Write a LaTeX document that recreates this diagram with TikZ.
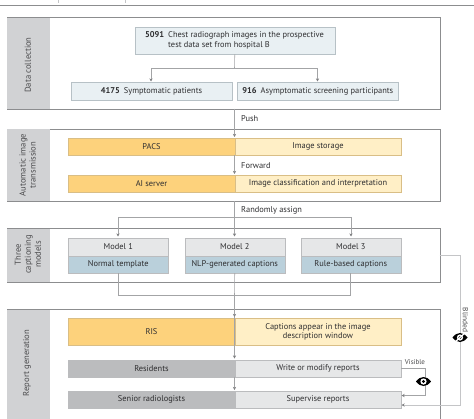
\documentclass[tikz,border=0pt]{standalone}
\usepackage{fontspec}
\setmainfont{PT Sans}
\usetikzlibrary{arrows.meta}
\definecolor{panelline}{HTML}{8C8D8F}
\definecolor{sidegray}{HTML}{D1D2D4}
\definecolor{sidetext}{HTML}{4A4A4C}
\definecolor{conn}{HTML}{A3A4A6}
\definecolor{connarrow}{HTML}{808183}
\definecolor{connlight}{HTML}{C4C5C7}
\definecolor{paleblue}{HTML}{E9F0F3}
\definecolor{paleline}{HTML}{B7C1C6}
\definecolor{orange}{HTML}{FDD27C}
\definecolor{cream}{HTML}{FFEFC6}
\definecolor{orangeline}{HTML}{D9BE86}
\definecolor{midgray}{HTML}{BBBCBE}
\definecolor{lightgray}{HTML}{E6E7E8}
\definecolor{steel}{HTML}{BAD0DB}
\definecolor{txt}{HTML}{2E2E30}
\tikzset{
  panel/.style={draw=panelline,line width=0.9pt,fill=white,anchor=north west,inner sep=0pt},
  side/.style={fill=sidegray,anchor=north west,inner sep=0pt,minimum width=42.5pt},
  sidelabel/.style={rotate=90,text=sidetext,font=\fontsize{8.6}{10}\selectfont,align=center,inner sep=0pt},
  cell/.style={anchor=north west,inner sep=0pt,text=txt,font=\fontsize{8.4}{9.8}\selectfont,align=center},
  bluebox/.style={cell,draw=paleline,line width=0.6pt,fill=paleblue},
  orangecell/.style={cell,draw=orangeline,line width=0.5pt,fill=orange},
  creamcell/.style={cell,draw=orangeline,line width=0.5pt,fill=cream},
  darkcell/.style={cell,draw=midgray,line width=0.5pt,fill=midgray},
  palecell/.style={cell,draw=midgray,line width=0.5pt,fill=lightgray},
  steelcell/.style={cell,draw=midgray,line width=0.5pt,fill=steel},
  flow/.style={draw=conn,line width=0.55pt},
  flowarrow/.style={flow,-{Stealth[length=3.2pt,width=3.2pt,color=connarrow]}},
  lightarrow/.style={draw=connlight,line width=0.9pt,-{Stealth[length=3.2pt,width=3.2pt,color=connarrow]}},
  flowlabel/.style={anchor=west,inner sep=0pt,text=txt,font=\fontsize{8.4}{9.8}\selectfont},
}
\newcommand{\eyeicon}[2]{%
  \fill[black] (#1-7.5,#2) .. controls (#1-3,#2-6) and (#1+3,#2-6) .. (#1+7.5,#2)
     .. controls (#1+3,#2+6) and (#1-3,#2+6) .. cycle;
  \fill[white] (#1,#2) circle (3.1pt);
  \fill[black] (#1,#2) circle (1.7pt);
}
\begin{document}
\begin{tikzpicture}[x=1pt,y=-1pt]
\clip (0,0) rectangle (474,418);
\fill[white] (0,0) rectangle (474,418);
% header rule and ticks
\draw[draw=panelline,line width=0.9pt] (0,5) -- (474,5);
\draw[draw=connlight,line width=0.5pt] (58,0) -- (58,3) (125,0) -- (125,3);

% panels
\node[panel,minimum width=433pt,minimum height=91.5pt] (p1) at (6.5,17) {};
\node[panel,minimum width=433pt,minimum height=72.5pt] (p2) at (6.5,128.5) {};
\node[panel,minimum width=433pt,minimum height=53.5pt] (p3) at (6.5,228) {};
\node[panel,minimum width=433pt,minimum height=125pt] (p4) at (6.5,309) {};
\node[side,minimum height=91pt] (s1) at (7,17.4) {};
\node[side,minimum height=72pt] (s2) at (7,129) {};
\node[side,minimum height=53pt] (s3) at (7,228.4) {};
\node[side,minimum height=124pt] (s4) at (7,309.4) {};
\node[sidelabel] (l1) at (28,65) {Data collection};
\node[sidelabel] (l2) at (27.5,165) {Automatic image\\transmission};
\node[sidelabel] (l3) at (28,254.5) {Three\\captioning\\models};
\node[sidelabel] (l4) at (27,363) {Report generation};

% data collection
\node[bluebox,minimum width=200pt,minimum height=26.5pt] (src) at (134.5,27) {};
\node[cell,anchor=center] (srct) at (234.5,40.3) {\begin{tabular}{@{}l@{\hspace{4pt}}l@{}}\textbf{5091}&Chest radiograph images in the prospective\\&test data set from hospital B\end{tabular}};
\node[bluebox,minimum width=160.5pt,minimum height=17.5pt] (sym) at (71,82) {\textbf{4175}\hspace{4pt}Symptomatic patients};
\node[bluebox,minimum width=161pt,minimum height=17.5pt] (asy) at (237,82) {\textbf{916}\hspace{4pt}Asymptomatic screening participants};
\coordinate (j1) at (234.5,68);
\coordinate (t1) at (151,81.5);
\coordinate (t2) at (317.5,81.5);
\draw[flow] (src.south) -- (j1);
\draw[flowarrow] (j1) -| (t1);
\draw[flowarrow] (j1) -| (t2);

% transmission
\node[orangecell,minimum width=166.5pt,minimum height=17pt] (pacs) at (68,138) {PACS};
\node[creamcell,minimum width=166.5pt,minimum height=17pt] (store) at (234.5,138) {Image storage};
\node[orangecell,minimum width=166.5pt,minimum height=17pt] (ai) at (68,175) {AI server};
\node[creamcell,minimum width=166.5pt,minimum height=17pt] (cls) at (234.5,175) {Image classification and interpretation};
\coordinate (fromp1) at (234.5,108.5);
\coordinate (intop) at (234.5,137);
\coordinate (pacsb) at (234.5,155);
\coordinate (aitop) at (234.5,174);
\draw[flowarrow] (fromp1) -- (intop);
\draw[flowarrow] (pacsb) -- (aitop);
\node[flowlabel] (push) at (241,119) {Push};
\node[flowlabel] (fwd) at (241,165.3) {Forward};
\node[flowlabel] (rand) at (241,210) {Randomly assign};

% models
\foreach \n/\x/\a/\b in {1/68/Model 1/Normal template,2/184.5/Model 2/NLP-generated captions,3/300.5/Model 3/Rule-based captions}{
  \node[palecell,minimum width=100pt,minimum height=17.5pt] (mt\n) at (\x,238) {\a};
  \node[steelcell,minimum width=100pt,minimum height=17pt] (mb\n) at (\x,255.5) {\b};
}
\coordinate (fromp2) at (234.5,201);
\coordinate (j2) at (234.5,217);
\coordinate (a1) at (118,236.5);
\coordinate (a2) at (234.5,236.5);
\coordinate (a3) at (351,236.5);
\draw[flow] (fromp2) -- (j2);
\draw[flowarrow] (j2) -| (a1);
\draw[flowarrow] (j2) -- (a2);
\draw[flowarrow] (j2) -| (a3);
\coordinate (j3) at (234.5,295);
\draw[flow] (mb1.south) |- (j3);
\draw[flow] (mb3.south) |- (j3);

% report generation
\node[orangecell,minimum width=166.5pt,minimum height=27pt] (ris) at (68,318) {RIS};
\node[creamcell,minimum width=166.5pt,minimum height=27pt] (capt) at (234.5,318) {Captions appear in the image\\description window};
\node[darkcell,minimum width=166.5pt,minimum height=17pt] (res) at (68,359.5) {Residents};
\node[palecell,minimum width=166.5pt,minimum height=17pt] (wr) at (234.5,359.5) {Write or modify reports};
\node[darkcell,minimum width=166.5pt,minimum height=17pt] (sen) at (68,391) {Senior radiologists};
\node[palecell,minimum width=166.5pt,minimum height=17pt] (sup) at (234.5,391) {Supervise reports};
\coordinate (rist) at (234.5,317);
\coordinate (risb) at (234.5,345);
\coordinate (rest) at (234.5,358.5);
\coordinate (resb) at (234.5,376.5);
\coordinate (sent) at (234.5,390);
\draw[flow] (mb2.south) -- (j3);
\draw[flowarrow] (j3) -- (rist);
\draw[flowarrow] (risb) -- (rest);
\draw[flowarrow] (resb) -- (sent);
\draw[flow] (rist) -- (risb);

% visible and blinded routes
\coordinate (wrr) at (401,368);
\coordinate (v1) at (425,368);
\coordinate (v2) at (425,395.5);
\coordinate (supa) at (401.5,395.5);
\draw[flowarrow] (wrr) -- (v1) -- (v2) -- (supa);
\coordinate (p3r) at (439.5,255.7);
\coordinate (b1) at (460,255.7);
\coordinate (b2) at (460,405);
\coordinate (supb) at (401.5,405);
\draw[lightarrow] (p3r) -- (b1) -- (b2) -- (supb);
\node[inner sep=0pt,text=sidetext,font=\fontsize{7}{8}\selectfont] (vis) at (415,362.5) {Visible};
\node[inner sep=0pt,rotate=-90,text=sidetext,font=\fontsize{7.4}{8}\selectfont] (bl) at (465.5,320) {Blinded};
\eyeicon{423.5}{381.5}
\eyeicon{460}{337.5}
\draw[white,line width=1.2pt] (455,342) -- (465,333);
\end{tikzpicture}
\end{document}
